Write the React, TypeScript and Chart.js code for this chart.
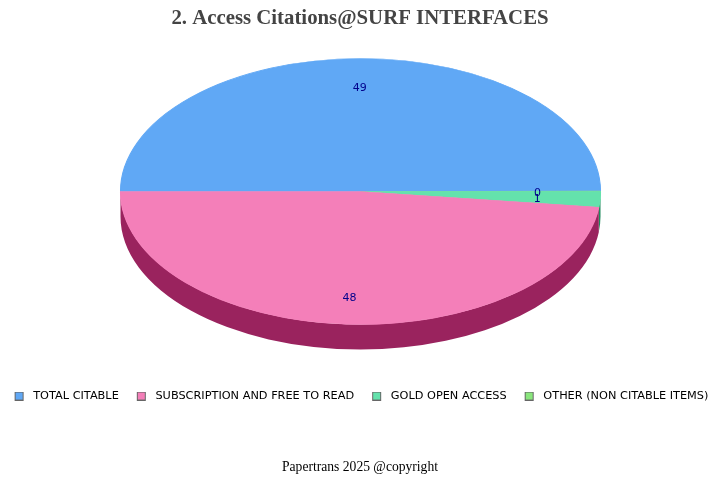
import {useEffect, useRef} from "react";

import {Chart, registerables} from "chart.js";

Chart.register(...registerables);

// Draw order runs clockwise from 9 o'clock, the legend keeps its own order
const categories = ["TOTAL CITABLE", "OTHER (NON CITABLE ITEMS)", "GOLD OPEN ACCESS", "SUBSCRIPTION AND FREE TO READ"];
const shares = [49.95, 0.05, 1.9, 48.1];
const sliceColors = ["#60a8f5", "#8ae67d", "#64e2ac", "#f47fb9"];
const sideColors = ["#1c5fa8", "#3f9a33", "#1f8a5c", "#9a235e"];
const legendOrder = [0, 3, 2, 1];

const titleText = "2. Access Citations@SURF INTERFACES";
const footerText = "Papertrans 2025 @copyright";

// Ellipse of the tilted pie
const PIE_X = 360.5;
const PIE_Y = 191.5;
const PIE_RX = 240;
const PIE_RY = 133;
const PIE_DEPTH = 25;

// Legend marker: box on the right of a wider transparent image, keeps the row on one line
function makeSwatch(color: string) {
  const swatch = document.createElement("canvas");
  swatch.width = 26;
  swatch.height = 9;
  const ctx = swatch.getContext("2d")!;
  ctx.fillStyle = "#666666";
  ctx.fillRect(13, 0, 9, 9);
  ctx.fillStyle = color;
  ctx.fillRect(14, 1, 7, 7);
  return swatch;
}

const tiltedPie = {
  id: "tiltedPie",
  afterLayout(chart: Chart) {
    // Legend row sits a little left of centre
    const legend = chart.legend as any;
    legend.left -= 5;
    legend.right -= 5;
  },
  beforeDatasetsDraw(chart: Chart) {
    const {ctx} = chart;
    const arcs = chart.getDatasetMeta(0).data as any[];

    // Side wall: only the part of each slice facing the viewer
    arcs.forEach((arc, i) => {
      const {startAngle, endAngle} = arc.getProps(["startAngle", "endAngle"], true);
      const from = Math.max(startAngle, 0);
      const to = Math.min(endAngle, Math.PI);
      if (to <= from) return;
      ctx.beginPath();
      ctx.ellipse(PIE_X, PIE_Y, PIE_RX, PIE_RY, 0, from, to);
      ctx.ellipse(PIE_X, PIE_Y + PIE_DEPTH, PIE_RX, PIE_RY, 0, to, from, true);
      ctx.closePath();
      ctx.fillStyle = sideColors[i];
      ctx.fill();
    });

    // Squash the round pie into the ellipse
    const {x, y, outerRadius} = arcs[0];
    ctx.save();
    ctx.translate(PIE_X, PIE_Y);
    ctx.scale(PIE_RX / outerRadius, PIE_RY / outerRadius);
    ctx.translate(-x, -y);
  },
  afterDatasetsDraw(chart: Chart) {
    const {ctx} = chart;
    ctx.restore();

    const arcs = chart.getDatasetMeta(0).data as any[];
    ctx.save();
    ctx.font = "11px 'DejaVu Sans'";
    ctx.fillStyle = "#00008b";
    ctx.textAlign = "center";
    ctx.textBaseline = "middle";
    arcs.forEach((arc, i) => {
      const {startAngle, endAngle} = arc.getProps(["startAngle", "endAngle"], true);
      const mid = (startAngle + endAngle) / 2;
      const labelX = 360 + Math.cos(mid) * PIE_RX * 0.74;
      const labelY = PIE_Y + 1.5 + Math.sin(mid) * PIE_RY * 0.79;
      ctx.fillText(String(Math.floor(shares[i])), labelX, labelY);
    });
    ctx.restore();
  },
};

export default function App() {
  const chartRef = useRef<HTMLCanvasElement>(null);

  useEffect(() => {
    if (!chartRef.current) return;

    const chart = new Chart(chartRef.current, {
      type: "pie",
      data: {
        labels: categories,
        datasets: [
          {
            data: shares,
            backgroundColor: sliceColors,
            borderColor: sliceColors,
            borderWidth: 0.8,
            clip: false,
          } as any,
        ],
      },
      options: {
        responsive: false,
        animation: false,
        rotation: -90,
        plugins: {
          title: {
            display: true,
            text: titleText,
            color: "#444444",
            font: {family: "'Liberation Serif'", size: 20.8, weight: "bold"},
            padding: {top: 6, bottom: 10},
          },
          subtitle: {
            display: true,
            position: "bottom",
            text: footerText,
            color: "#000000",
            font: {family: "'Liberation Serif'", size: 13.6, weight: "normal"},
            padding: {top: 48, bottom: 4},
          },
          legend: {
            position: "bottom",
            labels: {
              color: "#000000",
              font: {family: "'DejaVu Sans'", size: 11.3},
              usePointStyle: true,
              pointStyleWidth: 26,
              padding: 5,
              generateLabels: () =>
                legendOrder.map(i => ({
                  text: categories[i],
                  pointStyle: makeSwatch(sliceColors[i]),
                  fillStyle: sliceColors[i],
                  strokeStyle: "#666666",
                  lineWidth: 0,
                  fontColor: "#000000",
                  index: i,
                })),
            },
          },
          tooltip: {enabled: false},
        },
      },
      plugins: [tiltedPie],
    });

    return () => {
      chart.destroy();
    };
  }, []);

  return (
    <canvas
      ref={chartRef}
      width={720}
      height={480}
      style={{position: "fixed", left: 0, top: 0}}
    />
  );
}
